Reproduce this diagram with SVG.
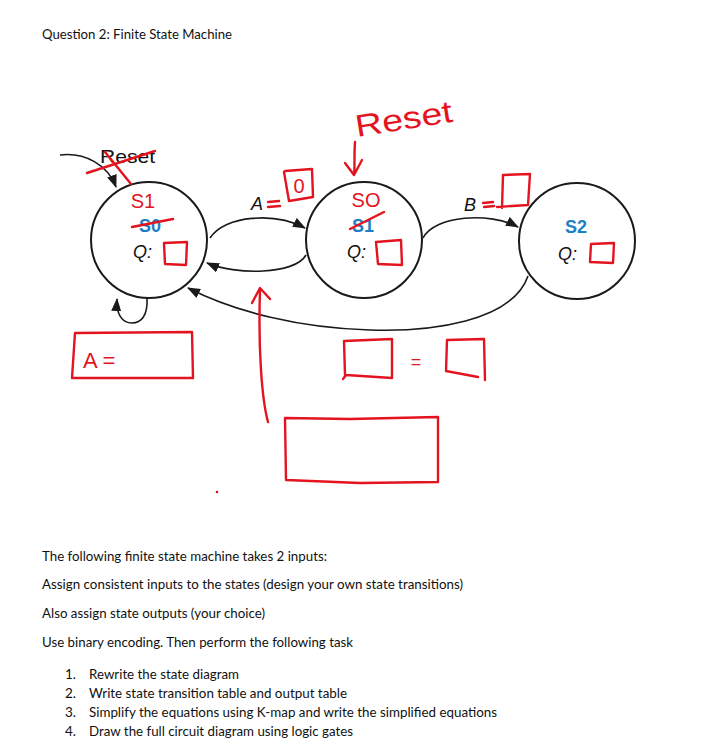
<svg xmlns="http://www.w3.org/2000/svg" width="702" height="753" viewBox="0 0 702 753">
<defs>
<style>
.st{fill:#fff;stroke:#1a1a1a;stroke-width:2}
.lbl{font-family:"Liberation Sans",Arial,sans-serif;font-weight:bold;font-size:18px;fill:#1f7fc4;text-anchor:middle}
.q{font-family:"Liberation Sans",Arial,sans-serif;font-style:italic;font-size:18px;fill:#111}
.edge{fill:none;stroke:#1a1a1a;stroke-width:1.6}
.red{fill:none;stroke:#e3141f;stroke-width:2.4;stroke-linecap:round;stroke-linejoin:round}
.rt{font-family:"Liberation Sans",Arial,sans-serif;fill:#e3141f}
.doc{font-family:Lato,"Open Sans",sans-serif;font-size:13.5px;fill:#111}
</style>
<marker id="ah" markerUnits="userSpaceOnUse" markerWidth="14" markerHeight="12" refX="12" refY="5" orient="auto">
<path d="M0,0 L13,5 L0,10 z" fill="#1a1a1a"/>
</marker>
</defs>
<rect width="702" height="753" fill="#fff"/>

<text class="doc" x="42" y="39" textLength="190" lengthAdjust="spacingAndGlyphs">Question 2: Finite State Machine</text>

<g id="connectors">
<path class="edge" d="M60,155 C85,152 108,165 116,187" marker-end="url(#ah)"/>
<path class="edge" d="M210,238 C225,215 275,212 305,228" marker-end="url(#ah)"/>
<path class="edge" d="M306,255 C295,275 235,275 207,263" marker-end="url(#ah)"/>
<path class="edge" d="M423,238 C435,215 490,212 518,227" marker-end="url(#ah)"/>
<path class="edge" d="M528,276 C512,322 430,332 370,330 C300,328 235,312 188,288" marker-end="url(#ah)"/>
<path class="edge" d="M147,298 C148,316 141,323 132,323 C122,323 116,314 117,299" marker-end="url(#ah)"/>
</g>

<g id="S0">
<circle class="st" cx="149" cy="240" r="58"/>
<text class="lbl" x="150" y="232">S0</text>
<text class="q" x="133" y="258">Q:</text>
<path class="red" d="M164,243 L187,242 L186,265 L165,264 z"/>
<text class="rt" x="143" y="208" font-size="20" text-anchor="middle">S1</text>
<line class="red" x1="132" y1="227" x2="173" y2="219"/>
</g>

<g id="S1">
<circle class="st" cx="364" cy="240" r="58"/>
<text class="lbl" x="363" y="232">S1</text>
<text class="q" x="347" y="258">Q:</text>
<path class="red" d="M376,242 L401,240 L402,265 L378,264 z"/>
<text class="rt" x="366" y="207" font-size="20" text-anchor="middle">SO</text>
<line class="red" x1="350" y1="229" x2="384" y2="212"/>
</g>

<g id="S2">
<circle class="st" cx="577" cy="241" r="58"/>
<text class="lbl" x="576" y="233">S2</text>
<text class="q" x="558" y="260">Q:</text>
<path class="red" d="M591,244 L614,243 L613,263 L590,262 z"/>
</g>

<g id="reset-left">
<text x="100" y="163" font-family="Liberation Sans,Arial,sans-serif" font-size="19" fill="#111" textLength="55" lengthAdjust="spacingAndGlyphs">Reset</text>
<line class="red" x1="87" y1="173" x2="155" y2="151"/>
<line class="red" x1="105" y1="152" x2="131" y2="184"/>
</g>

<g id="label-A">
<text class="q" x="251" y="210" font-size="17">A</text>
<line class="red" x1="268" y1="202" x2="279" y2="201"/>
<line class="red" x1="268" y1="207" x2="280" y2="206"/>
<path class="red" d="M284,172 L289,201 L313,197 L312,169 L285,171"/>
<text class="rt" x="299" y="193" font-size="20" text-anchor="middle">0</text>
</g>

<g id="label-B">
<text class="q" x="464" y="211" font-size="17">B</text>
<line class="red" x1="483" y1="203" x2="493" y2="202"/>
<line class="red" x1="484" y1="207" x2="494" y2="206"/>
<path class="red" d="M503,175 L530,174 L528,205 M503,175 L502,208 M497,207 L528,205"/>
</g>

<g id="reset-top">
<text class="rt" x="357" y="137" font-size="31" transform="rotate(-9 357 137)" textLength="98" lengthAdjust="spacingAndGlyphs">Reset</text>
<path class="red" d="M355,142 C354,155 355,165 354,175 M345,163 L354,175 L362,160"/>
</g>

<g id="annotations">
<path class="red" d="M75,333 L192,332 L193,378 L72,378 z"/>
<text class="rt" x="83" y="368" font-size="22">A =</text>
<path class="red" d="M344,341 L392,339 L392,378 L346,375 L343,379 M344,341 L345,375"/>
<text class="rt" x="416" y="368" font-size="18" text-anchor="middle">=</text>
<path class="red" d="M447,340 L484,339 L485,380 M447,340 L446,371 L478,377"/>
<path class="red" d="M260,290 C258,350 262,400 268,422 M252,303 L260,288 L270,299"/>
<path class="red" d="M285,418 L350,419 L438,417 L438,482 L360,483 L286,480 z"/>
<circle cx="217" cy="492" r="1.3" fill="#e3141f"/>
</g>

<g id="instructions">
<text class="doc" x="42" y="561" textLength="285" lengthAdjust="spacingAndGlyphs">The following finite state machine takes 2 inputs:</text>
<text class="doc" x="42" y="589" textLength="421" lengthAdjust="spacingAndGlyphs">Assign consistent inputs to the states (design your own state transitions)</text>
<text class="doc" x="42" y="618" textLength="223" lengthAdjust="spacingAndGlyphs">Also assign state outputs (your choice)</text>
<text class="doc" x="42" y="647" textLength="311" lengthAdjust="spacingAndGlyphs">Use binary encoding. Then perform the following task</text>
<text class="doc" x="65" y="679">1.</text>
<text class="doc" x="89" y="679" textLength="150" lengthAdjust="spacingAndGlyphs">Rewrite the state diagram</text>
<text class="doc" x="65" y="698">2.</text>
<text class="doc" x="89" y="698" textLength="258" lengthAdjust="spacingAndGlyphs">Write state transition table and output table</text>
<text class="doc" x="65" y="717">3.</text>
<text class="doc" x="89" y="717" textLength="408" lengthAdjust="spacingAndGlyphs">Simplify the equations using K-map and write the simplified equations</text>
<text class="doc" x="65" y="736">4.</text>
<text class="doc" x="89" y="736" textLength="264" lengthAdjust="spacingAndGlyphs">Draw the full circuit diagram using logic gates</text>
</g>
</svg>
